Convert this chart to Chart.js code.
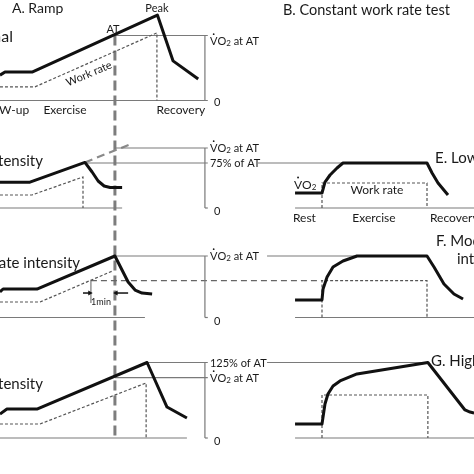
<!DOCTYPE html>
<html>
<head>
<meta charset="utf-8">
<script src="https://cdn.jsdelivr.net/npm/chart.js@4.4.1/dist/chart.umd.min.js"></script>
<style>
html, body { margin: 0; padding: 0; background: #fff; }
canvas { display: block; }
</style>
</head>
<body>
<canvas id="chart" width="474" height="474"></canvas>
<script>
// time in minutes, VO2 / work rate in % of VO2 at AT (0 = baseline, 100 = AT)
const AT_T = 3.33;          // AT on the ramp time axis
const ONE_MIN_T = AT_T - 1; // 1 min before AT

// A. Ramp - normal
const normVo2T = [-1.46, -1.25, -0.1, 5.1, 5.75, 6.8];
const normVo2  = [39, 44, 44, 131.5, 61, 33];
const normWrT  = [-1.46, 0, 5.08, 5.08];
const normWr   = [21, 21, 104, 0];

// ramp - low intensity
const lowVo2T = [-1.46, -0.21, 2.08, 2.38, 2.63, 2.88, 3.13, 3.63];
const lowVo2  = [43, 43, 76, 60, 45, 36.7, 34.2, 34.2];
const lowWrT  = [-1.46, -0.13, 2.0, 2.0];
const lowWr   = [21.7, 21.7, 51.7, 0];
const lowExtT = [2.08, 4.08];
const lowExt  = [76, 108];

// ramp - moderate intensity
const modVo2T = [-1.46, -1.33, 0.08, 3.33, 3.88, 4.17, 4.46, 4.88];
const modVo2  = [41.5, 46.3, 46.3, 100, 57.7, 44.7, 39.8, 38.2];
const modWrT  = [-1.46, 0.21, 3.25];
const modWr   = [25.2, 25.2, 76];
const modWrLevel = 60;

// ramp - high intensity
const highVo2T = [-1.46, -1.17, 0.08, 4.67, 5.5, 6.33];
const highVo2  = [39.7, 48, 48, 125, 51.3, 33.1];
const highWrT  = [-1.46, 0.21, 4.63, 4.63];
const highWr   = [23.2, 23.2, 91.1, 0];

// constant work rate tests
const lowCwT  = [-1.54, 0, 0.17, 0.46, 0.86, 1.2, 6.0, 6.29, 6.63, 7.2];
const lowCw   = [25, 25, 43.3, 55, 66.7, 75, 75, 58.3, 41.7, 21.7];
const lowCwWr = [0, 41.7, 41.7, 0];
const modCwT  = [-1.54, 0, 0.06, 0.29, 0.63, 1.2, 2.0, 6.0, 6.4, 6.97, 7.54, 8.06];
const modCw   = [28.5, 28.5, 46.3, 65.9, 82.1, 91.9, 100, 100, 82.1, 54.5, 38.2, 30.1];
const modCwWr = [0, 60, 60, 0];
const highCwT = [-1.54, 0, 0.17, 0.34, 0.63, 1.03, 2.0, 6.05, 8.17, 8.46, 8.69];
const highCw  = [23.2, 23.2, 56.3, 72.8, 86.1, 94.4, 106, 125, 46.4, 43, 41.4];
const highCwWr = [0, 71.2, 71.2, 0];
const cwWrT = [0, 0, 6, 6];
const highCwWrT = [0, 0, 6.05, 6.05];

// layout of the panels (pixel origin and pixels per unit for each axis)
const W = 474, H = 474;
const BRACKET_T = 7.08, TICK_T = 7.2;

function xSpan(origin, perUnit) {
    return { type: 'linear', position: 'bottom', display: false, min: -origin / perUnit, max: (W - origin) / perUnit };
}
function ySpan(base, perUnit) {
    return { type: 'linear', position: 'left', display: false, min: -(H - base) / perUnit, max: base / perUnit };
}

const VO2_STYLE = { borderColor: '#111', borderWidth: 3, borderJoinStyle: 'round', order: 0 };
const WR_STYLE = { borderColor: '#555', borderWidth: 1.2, borderDash: [3, 2], order: 1 };
const THIN = { borderColor: '#7a7a7a', borderWidth: 1.2, order: 2 };
const EXT = { borderColor: '#8a8a8a', borderWidth: 2.2, borderDash: [8, 5], order: 2 };
const REF = { borderColor: '#666', borderWidth: 1.3, borderDash: [6, 4], order: 2 };

function line(xs, ys, ax, ay, style) {
    return Object.assign({
        data: xs.map((x, i) => ({ x: x, y: ys[i] })),
        xAxisID: ax, yAxisID: ay,
        showLine: true, pointRadius: 0, fill: false, tension: 0
    }, style);
}
function hline(x0, x1, y, ax, ay, style) { return line([x0, x1], [y, y], ax, ay, style); }
function vline(x, y0, y1, ax, ay, style) { return line([x, x], [y0, y1], ax, ay, style); }

const datasets = [
    // bold VO2 curves
    line(normVo2T, normVo2, 'xL', 'y1', VO2_STYLE),
    line(lowVo2T, lowVo2, 'xL', 'y2', VO2_STYLE),
    line(modVo2T, modVo2, 'xL', 'y3', VO2_STYLE),
    line(highVo2T, highVo2, 'xL', 'y4', VO2_STYLE),
    line(lowCwT, lowCw, 'xR', 'y2', VO2_STYLE),
    line(modCwT, modCw, 'xR', 'y3', VO2_STYLE),
    line(highCwT, highCw, 'xR', 'y4', VO2_STYLE),
    // work rates
    line(normWrT, normWr, 'xL', 'y1', WR_STYLE),
    line(lowWrT, lowWr, 'xL', 'y2', WR_STYLE),
    line(modWrT, modWr, 'xL', 'y3', WR_STYLE),
    line(highWrT, highWr, 'xL', 'y4', WR_STYLE),
    line(cwWrT, lowCwWr, 'xR', 'y2', WR_STYLE),
    line(cwWrT, modCwWr, 'xR', 'y3', WR_STYLE),
    line(highCwWrT, highCwWr, 'xR', 'y4', WR_STYLE),
    // baselines
    hline(-1.46, TICK_T, 0, 'xL', 'y1', THIN),
    hline(-1.46, 3.63, 0, 'xL', 'y2', THIN),
    hline(-1.46, 4.58, 0, 'xL', 'y3', THIN),
    hline(-1.46, 6.33, 0, 'xL', 'y4', THIN),
    hline(BRACKET_T, TICK_T, 0, 'xL', 'y2', THIN),
    hline(BRACKET_T, TICK_T, 0, 'xL', 'y3', THIN),
    hline(BRACKET_T, TICK_T, 0, 'xL', 'y4', THIN),
    hline(-1.54, 8.69, 0, 'xR', 'y2', THIN),
    hline(-1.54, 8.69, 0, 'xR', 'y3', THIN),
    hline(-1.54, 8.69, 0, 'xR', 'y4', THIN),
    // brackets
    vline(BRACKET_T, 100, 0, 'xL', 'y1', THIN),
    vline(BRACKET_T, 100, 0, 'xL', 'y2', THIN),
    vline(BRACKET_T, 100, 0, 'xL', 'y3', THIN),
    vline(BRACKET_T, 125, 0, 'xL', 'y4', THIN),
    // reference levels
    hline(AT_T, TICK_T, 100, 'xL', 'y1', THIN),
    hline(AT_T, TICK_T, 100, 'xL', 'y2', THIN),
    hline(2.08, TICK_T, 75, 'xL', 'y2', THIN),
    hline(-3.66, 1.2, 75, 'xR', 'y2', THIN),
    hline(AT_T, TICK_T, 100, 'xL', 'y3', THIN),
    hline(-3.14, 2.0, 100, 'xR', 'y3', THIN),
    hline(AT_T, TICK_T, 100, 'xL', 'y4', THIN),
    hline(4.67, TICK_T, 125, 'xL', 'y4', THIN),
    hline(-3.14, 6.05, 125, 'xR', 'y4', THIN),
    // extrapolated ramp, work-rate level 1 min before AT
    line(lowExtT, lowExt, 'xL', 'y2', EXT),
    hline(ONE_MIN_T, 11.96, modWrLevel, 'xL', 'y3', REF),
    vline(ONE_MIN_T, modWrLevel, 23.6, 'xL', 'y3', THIN),
    Object.assign(line([2.0, 2.28], [39.8, 39.8], 'xL', 'y3', { borderColor: '#111', borderWidth: 1.5, order: 0 }),
        { pointRadius: [0, 3], pointStyle: 'triangle', pointRotation: 90, pointBackgroundColor: '#111', pointBorderWidth: 0 }),
    Object.assign(line([3.88, 3.38], [39.8, 39.8], 'xL', 'y3', { borderColor: '#111', borderWidth: 1.5, order: 0 }),
        { pointRadius: [0, 3], pointStyle: 'triangle', pointRotation: -90, pointBackgroundColor: '#111', pointBorderWidth: 0 })
];

const FONT = 'Lato, "Open Sans", sans-serif';
const texts = [
    { t: 'A. Ramp', x: -0.96, y: 142, ax: 'xL', ay: 'y1', size: 14, align: 'left' },
    { t: 'Normal', x: -0.92, y: 98, ax: 'xL', ay: 'y1', size: 16, align: 'right' },
    { t: 'Peak', x: 5.08, y: 141, ax: 'xL', ay: 'y1', size: 11, align: 'center' },
    { t: 'AT', x: 3.25, y: 110, ax: 'xL', ay: 'y1', size: 11, align: 'center' },
    { t: 'Work rate', x: 2.25, y: 41, ax: 'xL', ay: 'y1', size: 11, align: 'center', rot: -23 },
    { t: 'W-up', x: -1.5, y: -14.6, ax: 'xL', ay: 'y1', size: 12, align: 'left' },
    { t: 'Exercise', x: 1.25, y: -14.6, ax: 'xL', ay: 'y1', size: 12, align: 'center' },
    { t: 'Recovery', x: 6.08, y: -14.6, ax: 'xL', ay: 'y1', size: 12, align: 'center' },
    { t: ' at AT', vo2: true, x: 7.29, y: 91.5, ax: 'xL', ay: 'y1', size: 11, align: 'left' },
    { t: '0', x: 7.46, y: -2.3, ax: 'xL', ay: 'y1', size: 11, align: 'left' },
    { t: 'B. Constant work rate test', x: -2.23, y: 139.2, ax: 'xR', ay: 'y1', size: 14.5, align: 'left' },

    { t: 'Low intensity', x: 0.33, y: 78.3, ax: 'xL', ay: 'y2', size: 15, align: 'right' },
    { t: ' at AT', vo2: true, x: 7.29, y: 100, ax: 'xL', ay: 'y2', size: 11, align: 'left' },
    { t: '75% of AT', x: 7.29, y: 75, ax: 'xL', ay: 'y2', size: 11, align: 'left' },
    { t: '0', x: 7.46, y: -5, ax: 'xL', ay: 'y2', size: 11, align: 'left' },
    { t: 'E. Low intensity', x: 6.46, y: 83.3, ax: 'xR', ay: 'y2', size: 15, align: 'left' },
    { t: '', vo2: true, x: -1.6, y: 38.5, ax: 'xR', ay: 'y2', size: 12, align: 'left' },
    { t: 'Work rate', x: 3.14, y: 30, ax: 'xR', ay: 'y2', size: 12, align: 'center' },
    { t: 'Rest', x: -1.66, y: -16.7, ax: 'xR', ay: 'y2', size: 12, align: 'left' },
    { t: 'Exercise', x: 2.97, y: -16.7, ax: 'xR', ay: 'y2', size: 12, align: 'center' },
    { t: 'Recovery', x: 6.17, y: -16.7, ax: 'xR', ay: 'y2', size: 12, align: 'left' },

    { t: 'Moderate intensity', x: 1.875, y: 88.6, ax: 'xL', ay: 'y3', size: 15, align: 'right' },
    { t: ' at AT', vo2: true, x: 7.29, y: 100, ax: 'xL', ay: 'y3', size: 11, align: 'left' },
    { t: '0', x: 7.46, y: -5.7, ax: 'xL', ay: 'y3', size: 11, align: 'left' },
    { t: '1min', x: 2.75, y: 25.2, ax: 'xL', ay: 'y3', size: 9, align: 'center' },
    { t: 'F. Moderate', x: 6.51, y: 124.4, ax: 'xR', ay: 'y3', size: 15, align: 'left' },
    { t: 'intensity', x: 7.71, y: 95.1, ax: 'xR', ay: 'y3', size: 15, align: 'left' },

    { t: 'High intensity', x: 0.33, y: 89.4, ax: 'xL', ay: 'y4', size: 15, align: 'right' },
    { t: '125% of AT', x: 7.29, y: 124.2, ax: 'xL', ay: 'y4', size: 11, align: 'left' },
    { t: ' at AT', vo2: true, x: 7.29, y: 99.3, ax: 'xL', ay: 'y4', size: 11, align: 'left' },
    { t: '0', x: 7.46, y: -5, ax: 'xL', ay: 'y4', size: 11, align: 'left' },
    { t: 'G. High intensity', x: 6.23, y: 127.5, ax: 'xR', ay: 'y4', size: 15, align: 'left' }
];

function drawText(ctx, item, px, py) {
    const size = item.size;
    ctx.save();
    ctx.translate(px, py);
    if (item.rot) ctx.rotate(item.rot * Math.PI / 180);
    ctx.fillStyle = '#1a1a1a';
    ctx.textBaseline = 'middle';
    ctx.font = size + 'px ' + FONT;
    if (!item.vo2) {
        ctx.textAlign = item.align;
        ctx.fillText(item.t, 0, 0);
        ctx.restore();
        return;
    }
    // V with a dot, O, subscript 2, then the rest
    ctx.textAlign = 'left';
    const wV = ctx.measureText('V').width;
    const wO = ctx.measureText('O').width;
    const subFont = Math.round(size * 0.7) + 'px ' + FONT;
    ctx.font = subFont;
    const w2 = ctx.measureText('2').width;
    ctx.font = size + 'px ' + FONT;
    let x = 0;
    ctx.fillText('V', x, 0);
    ctx.beginPath();
    ctx.arc(x + wV / 2, -size * 0.62, Math.max(0.8, size * 0.08), 0, Math.PI * 2);
    ctx.fill();
    x += wV;
    ctx.fillText('O', x, 0);
    x += wO;
    ctx.font = subFont;
    ctx.fillText('2', x, size * 0.2);
    x += w2;
    ctx.font = size + 'px ' + FONT;
    ctx.fillText(item.t, x, 0);
    ctx.restore();
}

const annotations = {
    id: 'annotations',
    beforeDatasetsDraw(chart) {
        // AT marker running down through all ramp panels
        const s = chart.scales;
        const x = s.xL.getPixelForValue(AT_T);
        const ctx = chart.ctx;
        ctx.save();
        ctx.strokeStyle = '#7d7d7d';
        ctx.lineWidth = 3;
        ctx.setLineDash([10, 5]);
        ctx.beginPath();
        ctx.moveTo(x, s.y1.getPixelForValue(100));
        ctx.lineTo(x, s.y4.getPixelForValue(0));
        ctx.stroke();
        ctx.restore();
    },
    afterDatasetsDraw(chart) {
        const s = chart.scales;
        texts.forEach(item => {
            drawText(chart.ctx, item, s[item.ax].getPixelForValue(item.x), s[item.ay].getPixelForValue(item.y));
        });
    }
};

new Chart(document.getElementById('chart').getContext('2d'), {
    type: 'scatter',
    data: { datasets: datasets },
    options: {
        responsive: false,
        animation: false,
        layout: { padding: 0, autoPadding: false },
        scales: {
            xL: xSpan(35, 24),
            xR: xSpan(322, 17.5),
            y1: ySpan(100.5, 0.65),
            y2: ySpan(208, 0.6),
            y3: ySpan(317.5, 0.615),
            y4: ySpan(438, 0.604)
        },
        plugins: {
            legend: { display: false },
            tooltip: { enabled: false }
        }
    },
    plugins: [annotations]
});
</script>
</body>
</html>
